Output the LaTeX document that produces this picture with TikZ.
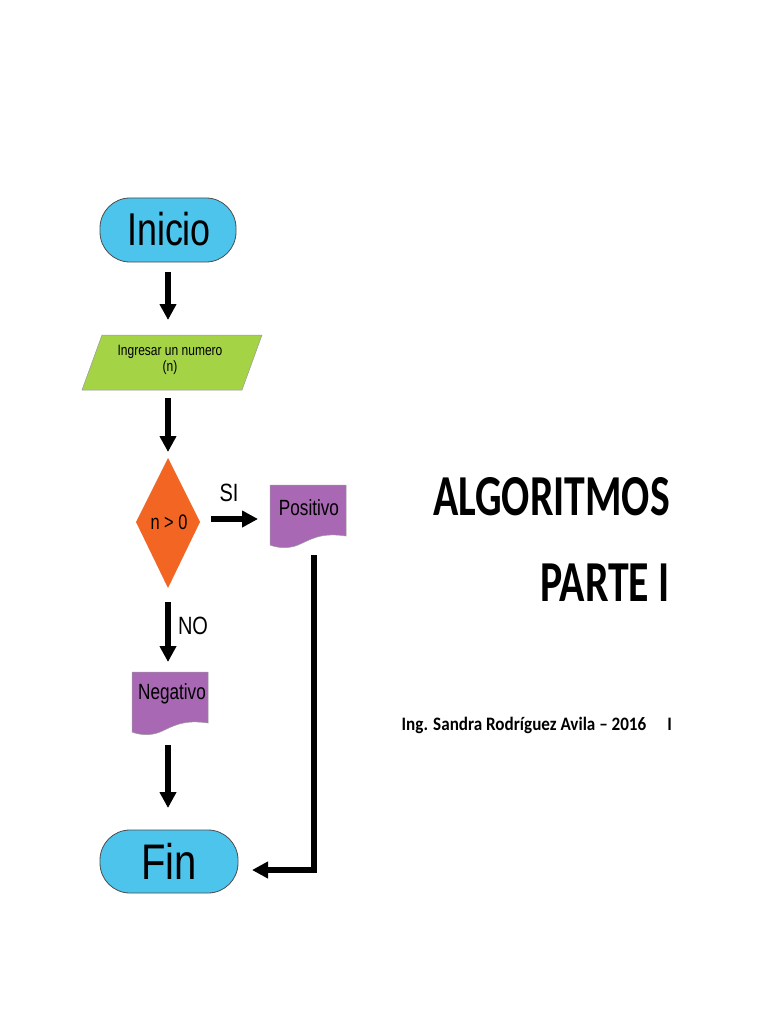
\documentclass[tikz,border=0pt]{standalone}
\usepackage{fontspec}
\setmainfont{Liberation Sans}
\newfontfamily\titlefont{Carlito}
\usetikzlibrary{arrows.meta,shapes.geometric}
\definecolor{cblue}{HTML}{4CC4EC}
\definecolor{cgreen}{HTML}{A4D346}
\definecolor{corange}{HTML}{F26522}
\definecolor{cpurple}{HTML}{A868B4}
\begin{document}
\begin{tikzpicture}[x=1pt,y=-1pt,
  term/.style={draw=black!70,line width=0.8pt,fill=cblue,rounded corners=30pt},
  flow/.style={line width=6pt,-{Triangle[length=16pt,width=16pt]}},
  lbl/.style={font=\fontsize{25}{27}\selectfont,inner sep=0pt},
  doc/.style={fill=cpurple,draw=black!40,line width=0.5pt}]
\useasboundingbox (0,0) rectangle (768,1024);
\fill[white] (0,0) rectangle (768,1024);
% Inicio
\draw[term] (100,198) rectangle (236,262);
\node[inner sep=0pt,font=\fontsize{46}{48}\selectfont] (ini) at (169,229) {\scalebox{0.78}[1]{Inicio}};
% input
\draw[draw=black!40,fill=cgreen,line width=0.5pt] (102,335) -- (262,335) -- (242,390) -- (82,390) -- cycle;
\node[align=center,font=\fontsize{15}{16}\selectfont,inner sep=0pt] (inp) at (170,360) {\scalebox{0.8}[1]{Ingresar un numero}\\\scalebox{0.8}[1]{(n)}};
% diamond
\fill[corange] (168,458) -- (200,522) -- (168,588) -- (136,522) -- cycle;
\node[font=\fontsize{21}{22}\selectfont,inner sep=0pt] (dec) at (169,522) {\scalebox{0.78}[1]{n > 0}};
% Positivo
\draw[doc] (270,485) -- (346,485) -- (346,536) .. controls (320,532) and (310,540) .. (298,545) .. controls (288,549) and (278,548) .. (270,545) -- cycle;
\node[font=\fontsize{22}{24}\selectfont,inner sep=0pt] (pos) at (309,508) {\scalebox{0.78}[1]{Positivo}};
% Negativo
\draw[doc] (132,672) -- (208,672) -- (208,723) .. controls (182,719) and (172,727) .. (160,732) .. controls (150,736) and (140,735) .. (132,732) -- cycle;
\node[font=\fontsize{22}{24}\selectfont,inner sep=0pt] (neg) at (172,694) {\scalebox{0.78}[1]{Negativo}};
% Fin
\draw[term] (100,830) rectangle (238,893);
\node[font=\fontsize{50}{52}\selectfont,inner sep=0pt] (fin) at (169,861) {\scalebox{0.8}[1]{Fin}};
% arrows
\coordinate (a1) at (168,272); \coordinate (a1e) at (168,320);
\coordinate (a2) at (168,398); \coordinate (a2e) at (168,452);
\coordinate (a3) at (211,519); \coordinate (a3e) at (258,519);
\coordinate (a4) at (168,602); \coordinate (a4e) at (168,662);
\coordinate (a5) at (168,745); \coordinate (a5e) at (168,808);
\coordinate (b1) at (314,555); \coordinate (b2) at (314,870); \coordinate (b3) at (252,870);
\draw[flow] (a1) -- (a1e);
\draw[flow] (a2) -- (a2e);
\draw[flow] (a3) -- (a3e);
\draw[flow] (a4) -- (a4e);
\draw[flow] (a5) -- (a5e);
\draw[flow] (b1) -- (b2) -- (b3);
\node[lbl] (si) at (229,493) {\scalebox{0.8}[1]{SI}};
\node[lbl] (no) at (193,626) {\scalebox{0.8}[1]{NO}};
% titles
\node[anchor=east,inner sep=0pt,font=\titlefont\bfseries\fontsize{58}{60}\selectfont] (t1) at (670,497) {\scalebox{0.72}[1]{ALGORITMOS}};
\node[anchor=east,inner sep=0pt,font=\titlefont\bfseries\fontsize{58}{60}\selectfont] (t2) at (670,583) {\scalebox{0.72}[1]{PARTE I}};
\node[anchor=east,inner sep=0pt,font=\titlefont\bfseries\fontsize{19}{20}\selectfont] (t3) at (672,725) {\scalebox{0.9}[1]{Ing. Sandra Rodríguez Avila – 2016\quad\ I}};
\end{tikzpicture}
\end{document}
